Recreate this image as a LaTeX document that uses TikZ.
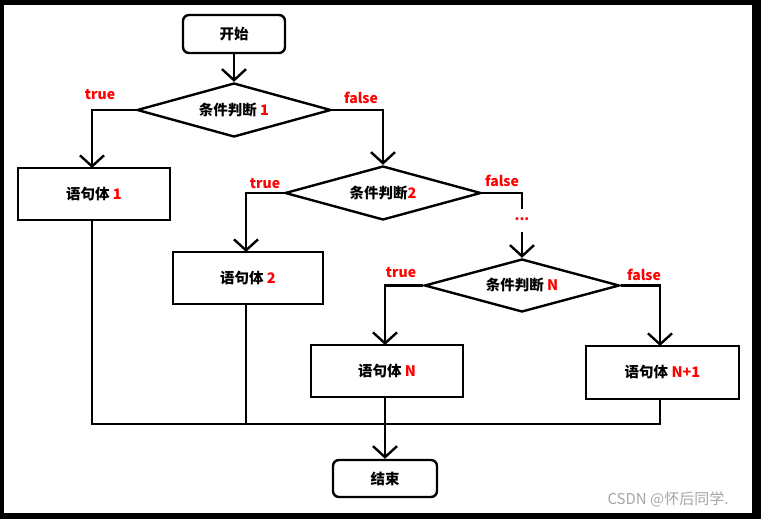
\documentclass[tikz,border=0pt]{standalone}
\usepackage{fontspec}
\setmainfont{Noto Sans CJK SC}
\usetikzlibrary{arrows.meta,shapes.geometric}
\tikzset{
  flow/.style={line width=2.4pt, -{Straight Barb[length=11pt,width=24pt,line width=2.4pt]}},
  link/.style={line width=2.4pt},
  box/.style={draw, line width=2.4pt, font=\bfseries\fontsize{14.5}{16}\selectfont},
  decision/.style={draw, diamond, line width=2.4pt, inner sep=0, font=\bfseries\fontsize{14.5}{16}\selectfont},
  tag/.style={text=red, font=\bfseries\fontsize{14}{16}\selectfont}
}
\newcommand{\rd}[1]{\textcolor{red}{#1}}
\begin{document}
\begin{tikzpicture}[x=1pt, y=-1pt]

    % Frame
    \fill[black] (0,0) rectangle (761,519);
    \fill[white] (4,5) rectangle (752,513);
    \useasboundingbox (0,0) rectangle (761,519);

    % Start and end
    \node[box, rounded corners=6pt, minimum width=102pt, minimum height=38pt] (start) at (234,34) {开始};
    \node[box, rounded corners=6pt, minimum width=104pt, minimum height=37pt] (stop) at (385,478.5) {结束};

    % Conditions
    \node[decision, minimum width=194pt, minimum height=54pt, aspect=3.6] (cond1) at (234,110) {条件判断 \rd{1}};
    \node[decision, minimum width=196pt, minimum height=54pt, aspect=3.6] (cond2) at (383,193) {条件判断\rd{2}};
    \node[decision, minimum width=195pt, minimum height=53pt, aspect=3.6] (condN) at (522,285.5) {条件判断 \rd{N}};

    % Statements
    \node[box, minimum width=152pt, minimum height=52pt] (body1) at (94,194) {语句体 \rd{1}};
    \node[box, minimum width=150pt, minimum height=52pt] (body2) at (248,278) {语句体 \rd{2}};
    \node[box, minimum width=152pt, minimum height=52pt] (bodyN) at (387,371) {语句体 \rd{N}};
    \node[box, minimum width=153pt, minimum height=53pt] (bodyM) at (662.5,372.5) {语句体 \rd{N+1}};

    % Helper points
    \coordinate (gap) at (522,209);
    \node[tag] (dots) at (522,219) {...};
    \coordinate (gapend) at (522,232);
    \coordinate (join) at (385,424);

    % Branches
    \draw[flow] (start) -- (cond1.north);
    \draw[flow] (cond1.west) -| (92,168);
    \draw[flow] (cond1.east) -| (cond2.north);
    \draw[flow] (cond2.west) -| (246,252);
    \draw[link] (cond2.east) -| (gap);
    \draw[flow] (gapend) -- (condN.north);
    \draw[flow] (condN.west) -| (385,345);
    \draw[flow] (condN.east) -| (660,346);

    % Merge
    \draw[link] (92,220) |- (join);
    \draw[link] (246,304) -- (246,424);
    \draw[link] (660,399) |- (join);
    \draw[flow] (385,397) -- (stop.north);

    % Labels
    \node[tag] at (100,95) {true};
    \node[tag] at (361,98) {false};
    \node[tag] at (265,184) {true};
    \node[tag] at (502,181) {false};
    \node[tag] at (401,273) {true};
    \node[tag] at (644,275) {false};
    \node[text=gray!70, font=\fontsize{15}{17}\selectfont] at (668,499) {CSDN @怀后同学.};

\end{tikzpicture}
\end{document}
